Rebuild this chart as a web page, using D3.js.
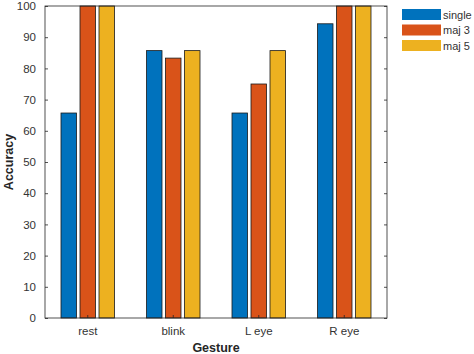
<!DOCTYPE html>
<html>
<head>
<meta charset="utf-8">
<script src="https://cdn.jsdelivr.net/npm/d3@7"></script>
<style>
  body { margin: 0; background: #fff; }
  svg text { font-family: "Liberation Sans", Arial, sans-serif; }
</style>
</head>
<body>
<div id="chart"></div>
<script>
// gestures and accuracy per classifier
var gestures = ["rest", "blink", "L eye", "R eye"];
var seriesNames = ["single", "maj 3", "maj 5"];
var single = [65.7, 85.7, 65.7, 94.3];
var maj3 = [100, 83.3, 75, 100];
var maj5 = [100, 85.7, 85.7, 100];
var yTicks = [0, 10, 20, 30, 40, 50, 60, 70, 80, 90, 100];
var colors = ["#0072BD", "#D95319", "#EDB120"];

var W = 474, H = 354;
var margin = { left: 45, right: 87, top: 6, bottom: 36 };
var iw = W - margin.left - margin.right;
var ih = H - margin.top - margin.bottom;

var svg = d3.select("#chart").append("svg")
    .attr("width", W)
    .attr("height", H);

var g = svg.append("g").attr("transform", "translate(" + margin.left + "," + margin.top + ")");

var x = d3.scaleBand().domain(gestures).range([0, iw]).padding(0);
var y = d3.scaleLinear().domain([0, 100]).range([ih, 0]);

var allSeries = [single, maj3, maj5];
var barW = 15.5, step = 19;

allSeries.forEach(function (vals, si) {
    g.selectAll(".bar" + si)
        .data(vals)
        .enter().append("rect")
        .attr("x", function (d, i) { return x(gestures[i]) + x.bandwidth() / 2 + (si - 1) * step - barW / 2; })
        .attr("y", function (d) { return y(d); })
        .attr("width", barW)
        .attr("height", function (d) { return ih - y(d); })
        .attr("fill", colors[si])
        .attr("stroke", "#1a1a1a")
        .attr("stroke-width", 0.8);
});

var axisColor = "#262626";

// box
g.append("rect")
    .attr("x", 0).attr("y", 0)
    .attr("width", iw).attr("height", ih)
    .attr("fill", "none")
    .attr("stroke", axisColor)
    .attr("stroke-width", 0.8);

// left axis
var yAxis = g.append("g").call(d3.axisLeft(y).tickValues(yTicks).tickSize(-3).tickPadding(9));
// right ticks
var yAxisR = g.append("g").attr("transform", "translate(" + iw + ",0)")
    .call(d3.axisRight(y).tickValues(yTicks).tickSize(-3).tickFormat(""));
var xAxis = g.append("g").attr("transform", "translate(0," + ih + ")")
    .call(d3.axisBottom(x).tickSize(-3).tickPadding(9));

[yAxis, yAxisR, xAxis].forEach(function (a) {
    a.select(".domain").remove();
    a.selectAll("line").attr("stroke", axisColor).attr("stroke-width", 0.8);
    a.selectAll("text").attr("fill", "#333").style("font-size", "11.5px");
});

// axis labels
svg.append("text")
    .attr("transform", "translate(13," + (margin.top + ih / 2) + ") rotate(-90)")
    .attr("text-anchor", "middle")
    .attr("font-weight", "bold")
    .attr("font-size", 12.5)
    .attr("fill", "#262626")
    .text("Accuracy");

svg.append("text")
    .attr("x", margin.left + iw / 2)
    .attr("y", 352)
    .attr("text-anchor", "middle")
    .attr("font-weight", "bold")
    .attr("font-size", 12.5)
    .attr("fill", "#262626")
    .text("Gesture");

// legend
var leg = svg.append("g").attr("transform", "translate(402,9)");
seriesNames.forEach(function (name, i) {
    leg.append("rect")
        .attr("x", 0).attr("y", i * 15.5)
        .attr("width", 39).attr("height", 11)
        .attr("fill", colors[i]);
    leg.append("text")
        .attr("x", 41).attr("y", i * 15.5 + 9.5)
        .attr("font-size", 11)
        .attr("fill", "#333")
        .text(name);
});
</script>
</body>
</html>
